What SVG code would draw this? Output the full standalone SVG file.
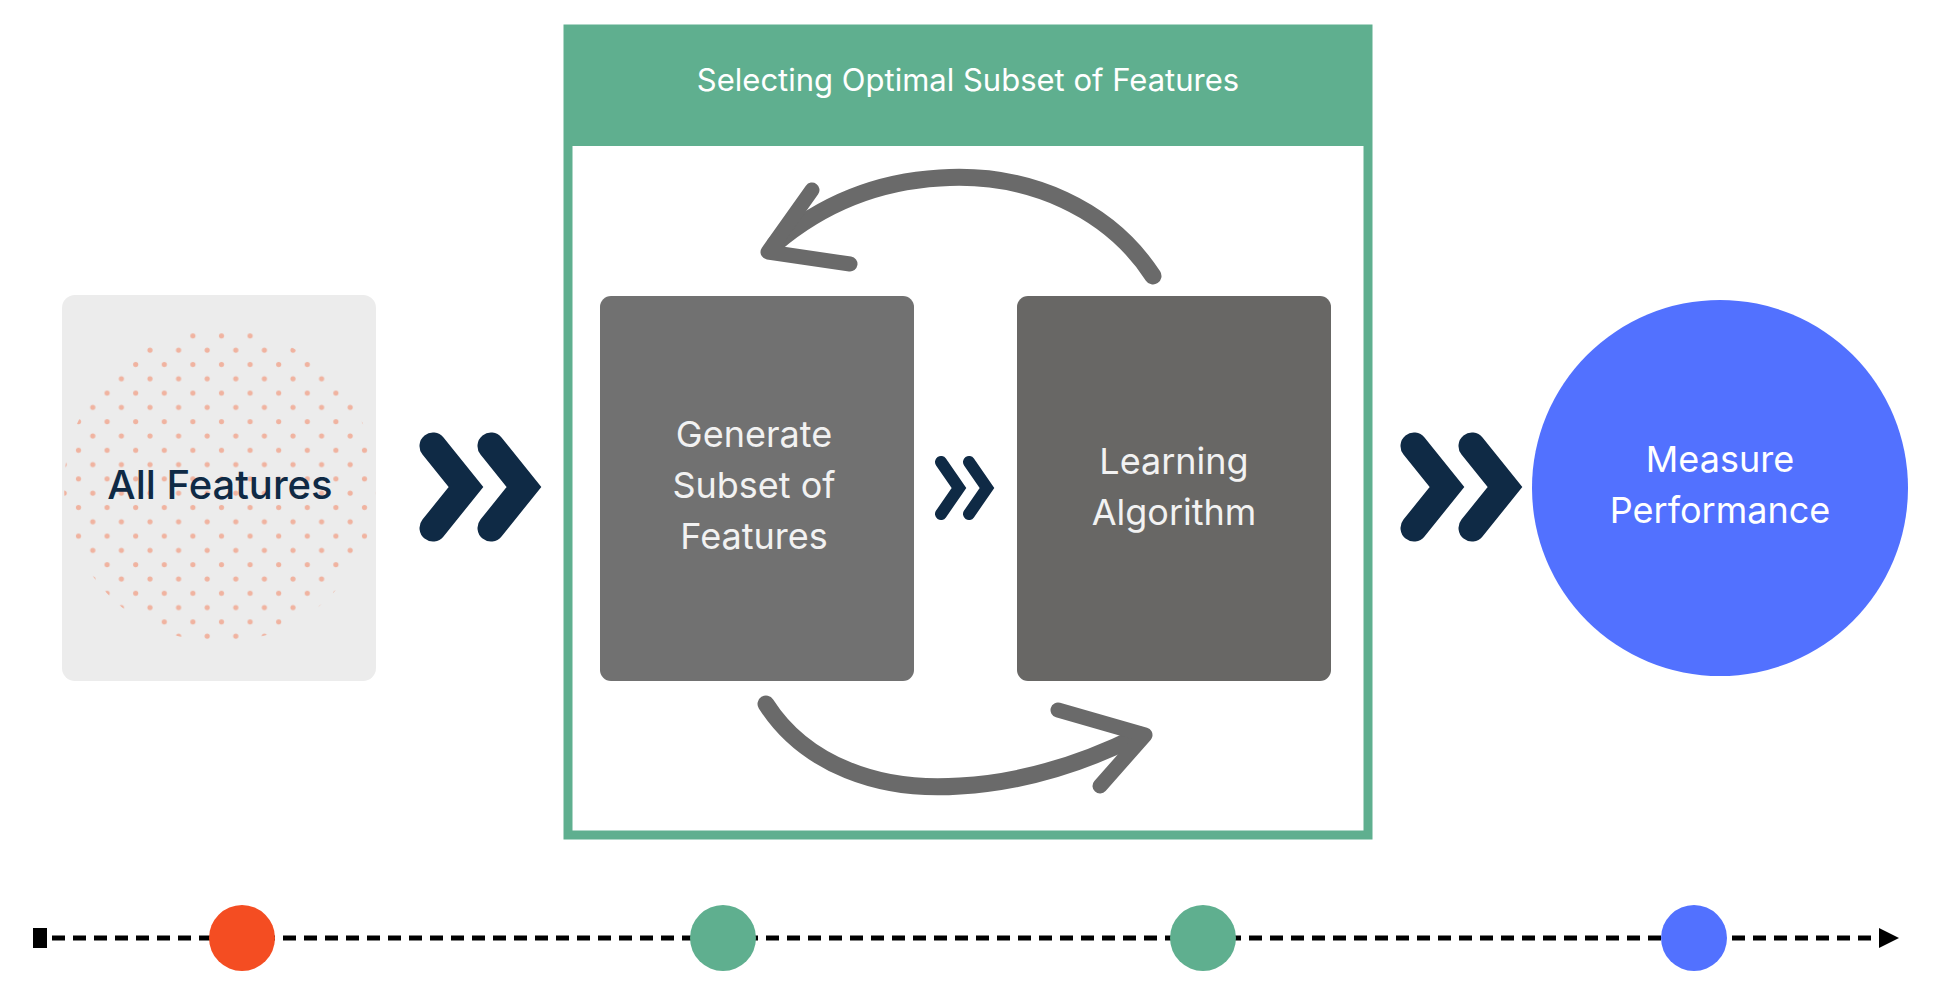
<svg xmlns="http://www.w3.org/2000/svg" width="1935" height="988" viewBox="0 0 1935 988">
<defs>
<style>
.lbl{font-family:"Inter","Open Sans","Liberation Sans",sans-serif;text-anchor:middle;dominant-baseline:central}
.chev{fill:none;stroke:#0f2a45;stroke-width:27;stroke-linecap:round;stroke-linejoin:miter;stroke-miterlimit:10}
.loop{fill:none;stroke:#6a6a6a;stroke-linecap:round;stroke-linejoin:round}
</style>
<pattern id="dots" x="0" y="0" width="28.6" height="28.6" patternUnits="userSpaceOnUse">
<circle cx="7" cy="7" r="2.6" fill="#f0b3a0"/>
<circle cx="21.3" cy="21.3" r="2.6" fill="#f0b3a0"/>
</pattern>
<marker id="end" viewBox="0 0 10 10" refX="8" refY="5" markerWidth="4" markerHeight="4" orient="auto"><path d="M0,0 L10,5 L0,10 Z" fill="#000"/></marker>
</defs>
<rect width="1935" height="988" fill="#fff"/>
<g id="all-features">
<rect x="62" y="295" width="314" height="386" rx="13" fill="#ececec"/>
<circle cx="220" cy="486" r="156" fill="url(#dots)"/>
<text class="lbl" x="220" y="484" font-size="40" fill="#0f2a45" font-weight="500">All Features</text>
</g>
<g id="selection-frame">
<rect x="568" y="29" width="800" height="806" fill="#fff" stroke="#5faf8f" stroke-width="9"/>
<rect x="564" y="25" width="808" height="121" fill="#5faf8f"/>
<text class="lbl" x="968" y="79" font-size="31" fill="#fff">Selecting Optimal Subset of Features</text>
</g>
<g id="generate">
<rect x="600" y="296" width="314" height="385" rx="11" fill="#717171"/>
<text class="lbl" font-size="36" fill="#f2f2f2"><tspan x="754" y="434">Generate</tspan><tspan x="754" y="485">Subset of</tspan><tspan x="754" y="536">Features</tspan></text>
</g>
<g id="learning">
<rect x="1017" y="296" width="314" height="385" rx="11" fill="#686765"/>
<text class="lbl" font-size="36" fill="#f2f2f2"><tspan x="1174" y="461">Learning</tspan><tspan x="1174" y="512">Algorithm</tspan></text>
</g>
<g id="measure">
<circle cx="1720" cy="488" r="188" fill="#5271ff"/>
<text class="lbl" font-size="36" fill="#fff"><tspan x="1720" y="459">Measure</tspan><tspan x="1720" y="510">Performance</tspan></text>
</g>
<g id="connectors">
<polyline class="chev" points="433,446 466,487 433,528"/>
<polyline class="chev" points="491,446 524,487 491,528"/>
<polyline class="chev" points="1414,446 1447,487 1414,528"/>
<polyline class="chev" points="1472,446 1505,487 1472,528"/>
<polyline class="chev" style="stroke-width:12" points="941,462 959,488 941,514"/>
<polyline class="chev" style="stroke-width:12" points="969,462 987,488 969,514"/>
<path class="loop" stroke-width="17" d="M1153,276 C1110,210 1030,172 940,178 C870,182 815,210 775,244"/>
<polyline class="loop" stroke-width="15" points="812,190 768,252 850,264"/>
<path class="loop" stroke-width="17" d="M766,704 C805,765 880,792 960,786 C1030,782 1090,760 1140,735"/>
<polyline class="loop" stroke-width="15" points="1058,710 1145,735 1100,786"/>
<line x1="52" y1="938" x2="1895" y2="938" stroke="#000" stroke-width="5" stroke-dasharray="13 8" marker-end="url(#end)"/>
<rect x="33" y="928" width="14" height="20" fill="#000"/>
</g>
<g id="timeline-dots">
<circle cx="242" cy="938" r="33" fill="#f44d22"/>
<circle cx="723" cy="938" r="33" fill="#5faf8f"/>
<circle cx="1203" cy="938" r="33" fill="#5faf8f"/>
<circle cx="1694" cy="938" r="33" fill="#5271ff"/>
</g>
</svg>
